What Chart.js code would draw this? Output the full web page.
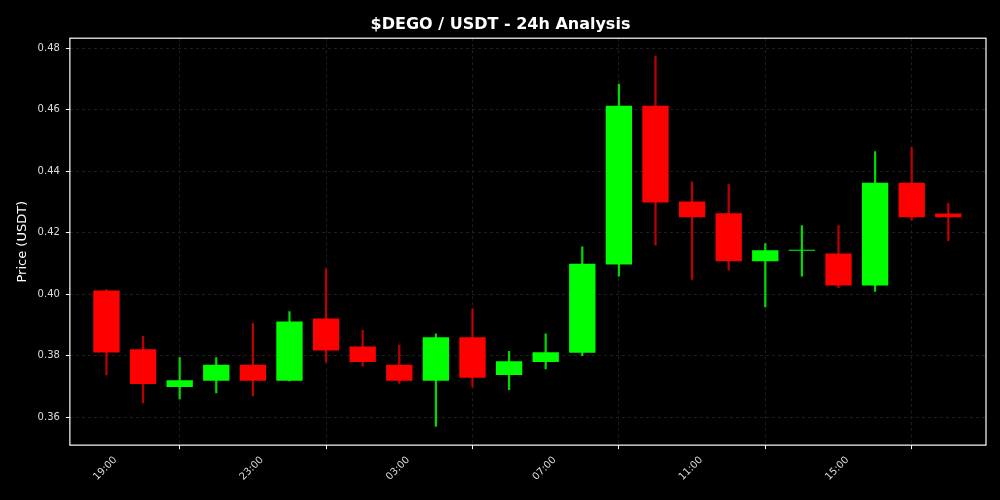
<!DOCTYPE html>
<html>
<head>
<meta charset="utf-8">
<script src="https://cdn.jsdelivr.net/npm/chart.js@4/dist/chart.umd.min.js"></script>
<style>
  html, body { margin: 0; padding: 0; background: #000; }
  #wrap { width: 1000px; height: 500px; }
</style>
</head>
<body>
<div id="wrap"><canvas id="candles"></canvas></div>
<script>
// hourly candles, 19:00 -> 18:00
const hours = ['19:00','20:00','21:00','22:00','23:00','00:00','01:00','02:00','03:00','04:00','05:00','06:00',
               '07:00','08:00','09:00','10:00','11:00','12:00','13:00','14:00','15:00','16:00','17:00','18:00'];
const opens  = [0.4012, 0.3821, 0.3698, 0.3718, 0.3770, 0.3718, 0.3921, 0.3830, 0.3770, 0.3718, 0.3860, 0.3737,
                0.3779, 0.3809, 0.4096, 0.4612, 0.4301, 0.4263, 0.4107, 0.4141, 0.4132, 0.4028, 0.4362, 0.4262];
const closes = [0.3810, 0.3708, 0.3720, 0.3770, 0.3718, 0.3911, 0.3817, 0.3779, 0.3718, 0.3860, 0.3728, 0.3782,
                0.3811, 0.4099, 0.4612, 0.4298, 0.4250, 0.4107, 0.4143, 0.4143, 0.4028, 0.4362, 0.4250, 0.4250];
const highs  = [0.4015, 0.3863, 0.3794, 0.3794, 0.3905, 0.3943, 0.4082, 0.3882, 0.3834, 0.3871, 0.3952, 0.3814,
                0.3871, 0.4154, 0.4683, 0.4774, 0.4365, 0.4356, 0.4164, 0.4223, 0.4223, 0.4463, 0.4476, 0.4295];
const lows   = [0.3737, 0.3646, 0.3659, 0.3679, 0.3669, 0.3718, 0.3779, 0.3766, 0.3710, 0.3570, 0.3698, 0.3689,
                0.3757, 0.3800, 0.4058, 0.4159, 0.4048, 0.4078, 0.3958, 0.4058, 0.4021, 0.4009, 0.4240, 0.4174];
const yTicks = [0.36, 0.38, 0.40, 0.42, 0.44, 0.46, 0.48];
const xTickEvery = 4;

const UP = '#00ff00', DOWN = '#ff0000';
const isUp = hours.map((h, i) => closes[i] >= opens[i]);

const wicks = hours.map((h, i) => ({ x: i, y: [lows[i], highs[i]] }));
const bodies = hours.map((h, i) => ({ x: i, y: [opens[i], closes[i]] }));

// white frame around the plot area
const frame = {
  id: 'frame',
  afterDraw(chart) {
    const a = chart.chartArea, c = chart.ctx;
    c.save();
    c.strokeStyle = '#ffffff';
    c.lineWidth = 1.2;
    c.strokeRect(a.left, a.top, a.right - a.left, a.bottom - a.top);
    c.restore();
  }
};
const bg = {
  id: 'bg',
  beforeDraw(chart) {
    const c = chart.ctx;
    c.save();
    c.fillStyle = '#000';
    c.fillRect(0, 0, chart.width, chart.height);
    c.restore();
  }
};

Chart.defaults.font.family = 'DejaVu Sans';

new Chart(document.getElementById('candles'), {
  type: 'bar',
  data: {
    datasets: [
      {
        label: 'wick',
        data: wicks,
        grouped: false,
        barThickness: 1.6,
        backgroundColor: isUp.map(u => u ? 'rgba(0,255,0,0.85)' : 'rgba(220,0,0,0.85)'),
        borderWidth: 0,
        order: 2
      },
      {
        label: 'body',
        data: bodies,
        grouped: false,
        barPercentage: 0.72,
        categoryPercentage: 1,
        minBarLength: 1,
        backgroundColor: isUp.map(u => u ? UP : DOWN),
        borderWidth: 0,
        order: 1
      }
    ]
  },
  options: {
    responsive: true,
    maintainAspectRatio: false,
    animation: false,
    layout: { padding: { left: 15, right: 14, top: 0, bottom: 12 } },
    plugins: {
      legend: { display: false },
      tooltip: { enabled: false },
      title: {
        display: true,
        text: '$DEGO / USDT - 24h Analysis',
        color: '#ffffff',
        font: { size: 16, weight: 'bold' },
        padding: { top: 15, bottom: 4 }
      }
    },
    scales: {
      x: {
        type: 'linear',
        min: -1,
        max: 24.03,
        offset: false,
        afterBuildTicks: (axis) => {
          axis.ticks = hours.map((h, i) => i).filter(i => i % xTickEvery === 0).map(v => ({ value: v }));
        },
        ticks: {
          color: '#dddddd',
          font: { size: 10 },
          maxRotation: 45,
          minRotation: 45,
          padding: 5,
          labelOffset: 9,
          callback: (v) => hours[v]
        },
        grid: { color: '#1e1e1e', tickColor: '#ffffff', tickLength: 4, tickBorderDash: [] },
        border: { display: false, dash: [3, 3] }
      },
      y: {
        min: 0.3509,
        max: 0.4832,
        afterBuildTicks: (axis) => { axis.ticks = yTicks.map(v => ({ value: v })); },
        ticks: {
          color: '#dddddd',
          font: { size: 10 },
          padding: 6,
          callback: (v) => v.toFixed(2)
        },
        title: {
          display: true,
          text: 'Price (USDT)',
          color: '#ffffff',
          font: { size: 13 },
          padding: { top: 0, bottom: 1 }
        },
        grid: { color: '#1e1e1e', tickColor: '#ffffff', tickLength: 4, tickBorderDash: [] },
        border: { display: false, dash: [3, 3] }
      }
    }
  },
  plugins: [bg, frame]
});
</script>
</body>
</html>
